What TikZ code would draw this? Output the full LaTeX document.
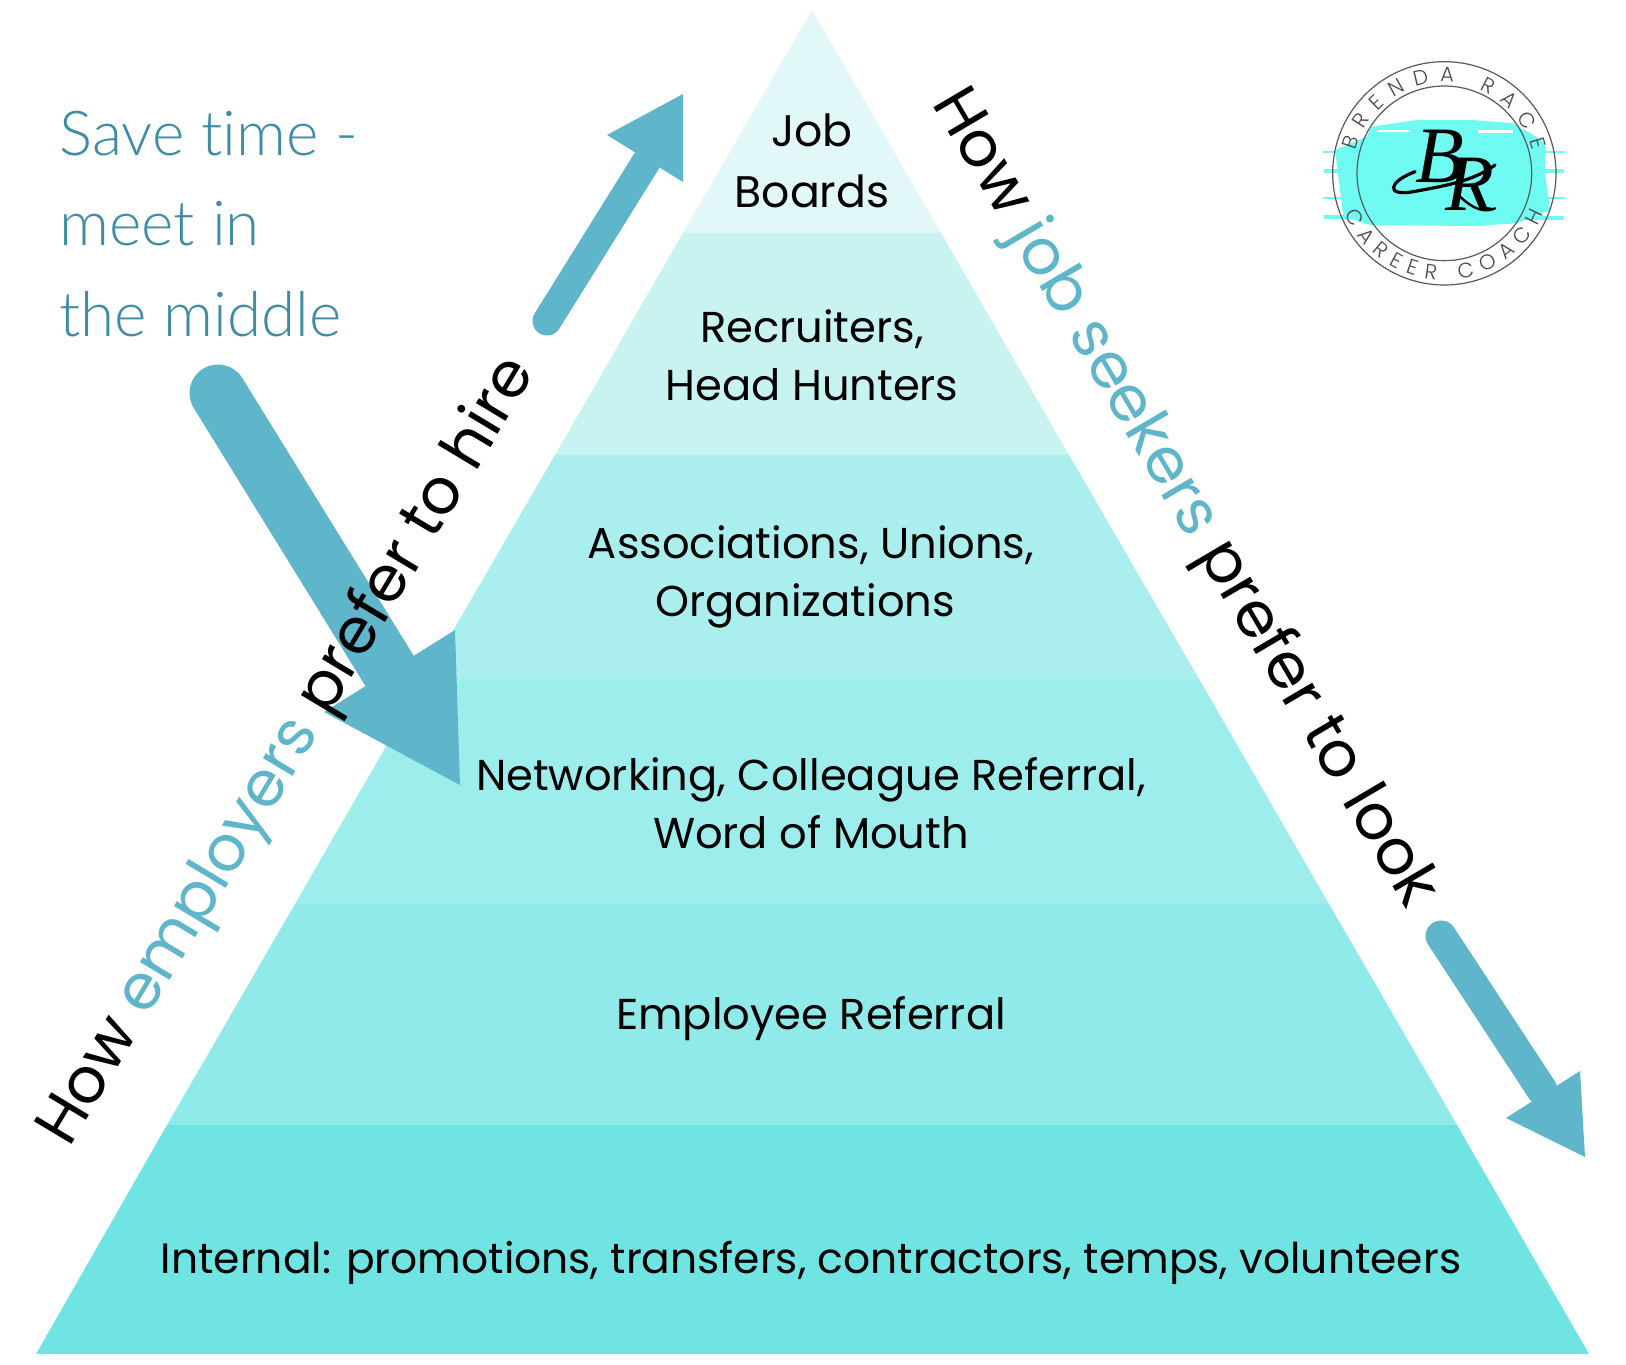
\documentclass[tikz,border=0pt]{standalone}
\usepackage{fontspec}
\setmainfont{Poppins}
\newfontfamily\lightf[Ligatures=NoCommon]{Lato Light}
\newfontfamily\ringf{Poppins Light}
\newfontfamily\scriptf{Liberation Serif Italic}
\usetikzlibrary{decorations.text}
\definecolor{bandA}{HTML}{E2F7F7}
\definecolor{bandB}{HTML}{C8F3F1}
\definecolor{bandC}{HTML}{AAEFED}
\definecolor{bandD}{HTML}{9DEDEC}
\definecolor{bandE}{HTML}{90EAEA}
\definecolor{bandF}{HTML}{70E4E3}
\definecolor{arrowc}{HTML}{5FB5C9}
\definecolor{savec}{HTML}{3F8DA3}
\definecolor{paint}{HTML}{70FBF2}
\tikzset{
  x=0.5pt,y=-0.5pt,
  label text/.style={font=\fontsize{21.6}{24}\selectfont,anchor=center,inner sep=0pt,text height=15pt,text depth=4pt},
  edge text/.style={font=\fontsize{31.5}{34}\selectfont,anchor=center,inner sep=0pt},
  save text/.style={font=\lightf\fontsize{31}{36}\selectfont,anchor=west,inner sep=0pt,text=savec,text height=22pt,text depth=7pt},
  shaft/.style={draw=arrowc,line cap=round},
  head/.style={fill=arrowc},
  ring/.style={draw=black!65,line width=0.6pt},
  mono/.style={font=\scriptf\fontsize{40}{40}\selectfont,inner sep=0pt},
}
\begin{document}
\begin{tikzpicture}
\useasboundingbox (0,0) rectangle (1626,1364);
\fill[white] (0,0) rectangle (1626,1364);
% pyramid
\fill[bandA] (812,10) -- (941,233) -- (683,233) -- cycle;
\fill[bandB] (683,233) -- (941,233) -- (1069,455) -- (555,455) -- cycle;
\fill[bandC] (555,455) -- (1069,455) -- (1199,679) -- (425,679) -- cycle;
\fill[bandD] (425,679) -- (1199,679) -- (1329,904) -- (295,904) -- cycle;
\fill[bandE] (295,904) -- (1329,904) -- (1457,1125) -- (167,1125) -- cycle;
\fill[bandF] (167,1125) -- (1457,1125) -- (1589,1354) -- (36,1354) -- cycle;
% big arrow
\coordinate (bs) at (218,393);
\coordinate (bn) at (389,670);
\coordinate (bt) at (460,785);
\coordinate (bl) at (455,630);
\coordinate (br) at (324,712);
\draw[shaft,line width=28.5pt] (bs) -- (bn);
\fill[head] (bt) -- (bl) -- (br) -- cycle;
% up arrow
\coordinate (us) at (547,321);
\coordinate (un) at (646,162);
\coordinate (ut) at (683,94);
\coordinate (ul) at (607,135);
\coordinate (ur) at (683,182);
\draw[shaft,line width=14.5pt] (us) -- (un);
\fill[head] (ut) -- (ul) -- (ur) -- cycle;
% right arrow
\coordinate (rs) at (1441,936);
\coordinate (rn) at (1542,1090);
\coordinate (rt) at (1585,1157);
\coordinate (rl) at (1580,1071);
\coordinate (rr) at (1506,1118);
\draw[shaft,line width=15.5pt] (rs) -- (rn);
\fill[head] (rt) -- (rl) -- (rr) -- cycle;
% labels
\node[label text,font=\fontsize{22.1}{24}\selectfont] (l1a) at (812,136) {Job};
\node[label text,font=\fontsize{22.1}{24}\selectfont] (l1b) at (812,197) {Boards};
\node[label text] (l2a) at (812,331) {Recruiters,};
\node[label text] (l2b) at (812,389) {Head Hunters};
\node[label text] (l3a) at (811,547) {Associations, Unions,};
\node[label text] (l3b) at (805,605) {Organizations};
\node[label text] (l4a) at (811,779) {Networking, Colleague Referral,};
\node[label text] (l4b) at (811,837) {Word of Mouth};
\node[label text] (l5) at (811,1018) {Employee Referral};
\node[label text,font=\fontsize{21.2}{24}\selectfont] (l6) at (811,1262) {Internal: promotions, transfers, contractors, temps, volunteers};
% side texts
\node[edge text,rotate=59] (et) at (289,752) {How \textcolor{arrowc}{employers} prefer to hire};
\node[edge text,rotate=-59.5] (jt) at (1183,499) {How \textcolor{arrowc}{job seekers} prefer to look};
\node[save text] (s1) at (59,141) {Save time -};
\node[save text] (s2) at (59,231) {meet in};
\node[save text] (s3) at (59,321) {the middle};
% logo (coordinates in 3x crop units)
\begin{scope}[shift={(1300,40)},x=0.16667pt,y=-0.16667pt]
\fill[paint] (215,260) -- (350,240) -- (520,240) -- (640,250) -- (700,285) -- (735,310) -- (735,400) -- (750,510) -- (650,550) -- (520,558) -- (300,556) -- (215,556) -- (130,530) -- (120,450) -- (105,330) -- (200,290) -- cycle;
\foreach \ya/\yb/\xa/\xb in {332/338/70/170,387/398/72/170,472/478/70/170,526/538/72/150,332/338/720/795,388/399/720/792,472/478/720/795,527/539/680/792}
  \fill[paint] (\xa,\ya) rectangle (\xb,\yb);
\fill[white] (230,269) rectangle (330,276);
\fill[white] (535,269) rectangle (640,278);
\draw[ring] (433,400) circle[radius=335];
\draw[ring] (433,400) circle[radius=262];
\node[mono] (mb) at (420,348) {B};
\node[mono] (mr) at (510,432) {R};
\draw[line width=1.6pt,line cap=round] (345,395) .. controls (265,425) and (255,470) .. (340,455) .. controls (420,440) and (520,425) .. (585,375);
\draw[line width=1.2pt,line cap=round] (470,460) .. controls (500,490) and (540,525) .. (585,505);
\end{scope}
\begin{scope}[shift={(1444,173)},x=0.5pt,y=0.5pt]
\path[decorate,decoration={text along path,text align={fit to path},text={|\ringf\fontsize{10.5}{11}\selectfont\color{black!70}|BRENDA RACE}}] (166:91) arc[start angle=166,end angle=14,radius=91];
\path[decorate,decoration={text along path,text align={fit to path},text={|\ringf\fontsize{10.5}{11}\selectfont\color{black!70}|CAREER COACH}}] (202:107) arc[start angle=202,end angle=338,radius=107];
\end{scope}
\end{tikzpicture}
\end{document}
